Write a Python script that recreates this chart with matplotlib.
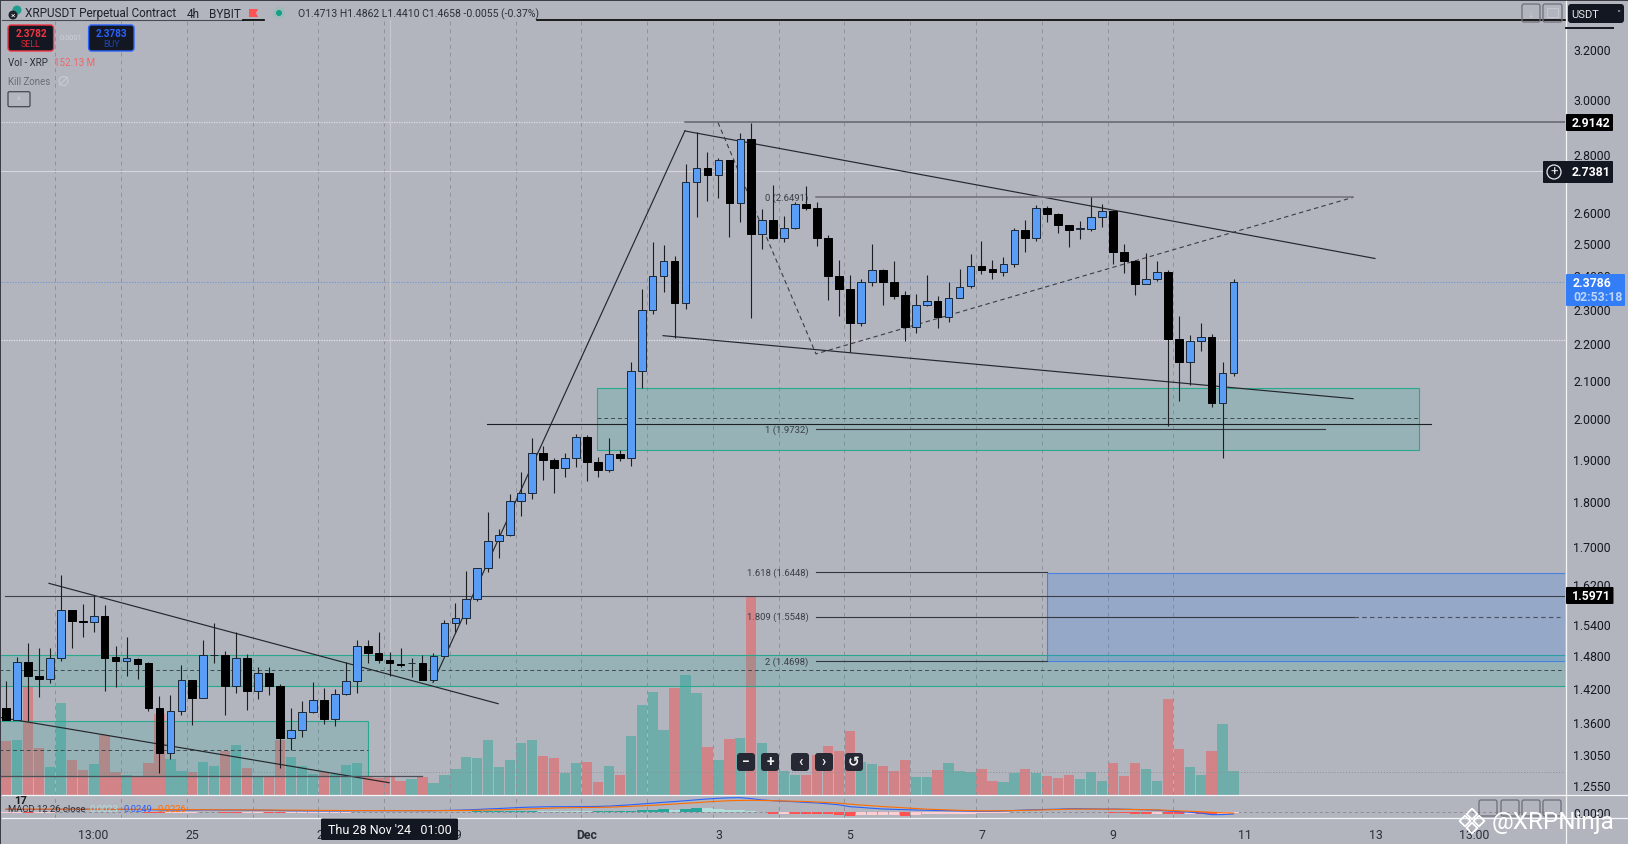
import matplotlib
matplotlib.use("Agg")
import matplotlib.pyplot as plt
from matplotlib.patches import Rectangle, FancyBboxPatch, Circle, Polygon
from matplotlib.colors import to_rgba
import numpy as np

plt.rcParams['font.family'] = ['Roboto', 'DejaVu Sans']

# candles, 4h, one value per bar
opens = [1.384, 1.364, 1.467, 1.442, 1.436, 1.475, 1.567, 1.546, 1.545, 1.557,
         1.477, 1.469, 1.473, 1.465, 1.385, 1.307, 1.379, 1.434, 1.402, 1.480,
         1.480, 1.423, 1.476, 1.414, 1.447, 1.424, 1.332, 1.346, 1.378, 1.398,
         1.365, 1.410, 1.433, 1.498, 1.484, 1.471, 1.464, 1.465, 1.465, 1.435,
         1.479, 1.543, 1.553, 1.591, 1.654, 1.711, 1.725, 1.800, 1.819, 1.913,
         1.898, 1.878, 1.902, 1.954, 1.892, 1.873, 1.912, 1.902, 2.125, 2.297,
         2.398, 2.442, 2.316, 2.702, 2.751, 2.724, 2.779, 2.631, 2.854, 2.527,
         2.574, 2.515, 2.548, 2.625, 2.614, 2.515, 2.398, 2.359, 2.258, 2.378,
         2.414, 2.378, 2.339, 2.247, 2.311, 2.323, 2.275, 2.332, 2.367, 2.428,
         2.417, 2.409, 2.433, 2.541, 2.517, 2.613, 2.595, 2.556, 2.544, 2.543,
         2.582, 2.605, 2.472, 2.444, 2.372, 2.389, 2.409, 2.213, 2.150, 2.207,
         2.219, 2.040, 2.120]
highs = [1.433, 1.478, 1.504, 1.494, 1.494, 1.639, 1.567, 1.580, 1.597, 1.578,
         1.498, 1.516, 1.476, 1.468, 1.406, 1.407, 1.462, 1.434, 1.509, 1.542,
         1.488, 1.524, 1.483, 1.458, 1.459, 1.427, 1.385, 1.396, 1.431, 1.420,
         1.419, 1.467, 1.510, 1.510, 1.525, 1.486, 1.494, 1.476, 1.481, 1.484,
         1.549, 1.582, 1.648, 1.654, 1.777, 1.738, 1.817, 1.869, 1.951, 1.932,
         1.901, 1.914, 1.961, 1.959, 1.904, 1.951, 1.922, 2.149, 2.358, 2.503,
         2.492, 2.459, 2.763, 2.880, 2.807, 2.783, 2.779, 2.876, 2.913, 2.611,
         2.692, 2.588, 2.634, 2.689, 2.634, 2.526, 2.447, 2.399, 2.389, 2.497,
         2.419, 2.444, 2.352, 2.343, 2.399, 2.338, 2.380, 2.419, 2.466, 2.506,
         2.447, 2.455, 2.549, 2.574, 2.622, 2.620, 2.598, 2.558, 2.571, 2.650,
         2.627, 2.608, 2.497, 2.445, 2.469, 2.443, 2.415, 2.278, 2.224, 2.258,
         2.227, 2.150, 2.389]
lows = [1.364, 1.364, 1.362, 1.403, 1.429, 1.470, 1.494, 1.516, 1.524, 1.415,
        1.422, 1.442, 1.436, 1.379, 1.275, 1.297, 1.372, 1.354, 1.402, 1.466,
        1.372, 1.411, 1.381, 1.401, 1.408, 1.283, 1.313, 1.335, 1.375, 1.357,
        1.353, 1.407, 1.411, 1.466, 1.466, 1.442, 1.458, 1.440, 1.435, 1.433,
        1.479, 1.524, 1.541, 1.587, 1.646, 1.676, 1.722, 1.766, 1.805, 1.850,
        1.819, 1.856, 1.880, 1.847, 1.856, 1.869, 1.894, 1.883, 2.080, 2.284,
        2.350, 2.216, 2.299, 2.585, 2.638, 2.648, 2.520, 2.568, 2.272, 2.481,
        2.513, 2.503, 2.543, 2.608, 2.491, 2.326, 2.279, 2.177, 2.250, 2.366,
        2.311, 2.328, 2.208, 2.229, 2.308, 2.245, 2.261, 2.332, 2.361, 2.402,
        2.389, 2.397, 2.426, 2.470, 2.505, 2.567, 2.530, 2.488, 2.513, 2.539,
        2.552, 2.435, 2.407, 2.340, 2.372, 2.383, 1.980, 2.044, 2.087, 2.178,
        2.030, 1.901, 2.112]
closes = [1.364, 1.467, 1.441, 1.436, 1.475, 1.567, 1.546, 1.545, 1.557, 1.476,
          1.469, 1.475, 1.464, 1.385, 1.307, 1.379, 1.434, 1.402, 1.480, 1.480,
          1.423, 1.476, 1.414, 1.447, 1.424, 1.332, 1.346, 1.378, 1.398, 1.365,
          1.410, 1.433, 1.498, 1.484, 1.471, 1.465, 1.463, 1.465, 1.435, 1.479,
          1.543, 1.553, 1.590, 1.654, 1.711, 1.725, 1.800, 1.819, 1.913, 1.898,
          1.878, 1.902, 1.954, 1.892, 1.873, 1.912, 1.902, 2.125, 2.297, 2.398,
          2.442, 2.316, 2.702, 2.751, 2.724, 2.777, 2.631, 2.852, 2.527, 2.574,
          2.514, 2.548, 2.625, 2.612, 2.514, 2.398, 2.359, 2.258, 2.378, 2.414,
          2.379, 2.338, 2.247, 2.311, 2.323, 2.275, 2.332, 2.365, 2.428, 2.416,
          2.409, 2.433, 2.541, 2.517, 2.613, 2.595, 2.556, 2.541, 2.544, 2.582,
          2.603, 2.472, 2.444, 2.372, 2.389, 2.409, 2.213, 2.150, 2.207, 2.219,
          2.040, 2.120, 2.379]

# volume in millions
volumes = [467, 473, 940, 404, 244, 788, 304, 215, 267, 519,
           195, 175, 166, 275, 697, 310, 206, 195, 281, 252,
           381, 430, 232, 166, 166, 473, 330, 252, 181, 195,
           181, 258, 275, 166, 146, 152, 120, 138, 152, 103,
           172, 224, 327, 321, 476, 244, 301, 447, 476, 333,
           318, 189, 275, 284, 109, 249, 169, 505, 774, 883,
           556, 917, 1032, 877, 413, 301, 482, 490, 1710, 447,
           209, 206, 172, 175, 347, 421, 376, 550, 281, 267,
           247, 206, 298, 155, 155, 215, 275, 206, 195, 221,
           120, 112, 189, 224, 189, 163, 143, 175, 138, 198,
           118, 275, 161, 275, 221, 118, 826, 396, 241, 172,
           378, 611, 206]

# MACD pane
macd_line = [.045, .045, .044, .044, .044, .046, .047, .047, .047, .046,
             .045, .044, .043, .040, .036, .034, .034, .034, .036, .036,
             .035, .035, .033, .032, .031, .027, .024, .023, .022, .021,
             .021, .022, .024, .025, .025, .025, .025, .025, .024, .025,
             .028, .032, .037, .043, .052, .058, .067, .074, .080, .084,
             .086, .086, .087, .088, .090, .095, .105, .115, .128, .140,
             .154, .165, .178, .192, .205, .216, .222, .225, .210, .190,
             .178, .170, .162, .152, .143, .130, .115, .086, .075, .062,
             .051, .045, .040, .035, .031, .027, .024, .021, .018, .015,
             .016, .020, .028, .035, .040, .044, .048, .055, .055, .053,
             .050, .050, .047, .043, .038, .033, .020, .010, .000, -.012,
             -.037, -.035, -.026]
signal_line = [.050, .049, .049, .048, .048, .047, .047, .047, .047, .047,
               .047, .046, .046, .045, .044, .042, .041, .040, .039, .039,
               .038, .038, .037, .036, .035, .034, .033, .032, .030, .029,
               .028, .027, .026, .026, .026, .026, .025, .025, .025, .025,
               .026, .027, .028, .030, .034, .038, .043, .048, .054, .060,
               .066, .070, .072, .074, .076, .079, .085, .092, .100, .108,
               .118, .128, .138, .148, .160, .170, .178, .182, .184, .182,
               .178, .174, .170, .165, .158, .150, .140, .125, .112, .100,
               .088, .078, .068, .058, .048, .042, .036, .030, .026, .022,
               .022, .024, .026, .030, .034, .038, .042, .048, .048, .049,
               .048, .047, .045, .042, .040, .037, .030, .022, .016, .008,
               .000, -.008, -.012]
macd_hist = [-.005, -.004, -.005, -.004, -.004, -.001, .000, .000, .000, -.001,
             -.002, -.002, -.003, -.005, -.008, -.008, -.007, -.006, -.003, -.003,
             -.004, -.015, -.014, -.014, -.016, -.017, -.009, -.009, -.008, -.008,
             -.007, -.005, -.002, -.001, -.001, -.001, .000, .000, -.001, .000,
             .002, .005, .009, .013, .018, .020, .024, .026, .026, .024,
             .020, .016, .015, .014, .014, .016, .020, .023, .028, .036,
             .051, .030, .051, .062, .060, .051, .036, .030, .020, .010,
             -.020, -.020, -.021, -.025, -.026, -.030, -.045, -.050, -.048, -.046,
             -.045, -.044, -.050, -.035, -.030, -.028, -.025, -.022, -.019, -.015,
             -.010, -.005, -.003, .005, .010, .011, .008, .005, .006, .004,
             .010, -.005, -.015, -.020, -.021, -.020, -.025, -.026, -.020, -.030,
             -.031, -.020, -.015]

price_ticks = [3.2, 3.0, 2.8, 2.6, 2.5, 2.4, 2.3, 2.2, 2.1, 2.0, 1.9, 1.8, 1.7,
               1.62, 1.54, 1.48, 1.42, 1.36, 1.305, 1.255]
time_tick_bars = [8, 17, 29, 41, 53, 65, 77, 89, 101, 113, 125, 134]
time_tick_labels = ['13:00', '25', '27', '29', 'Dec', '3', '5', '7', '9', '11', '13', '13:00']
grid_bars = [4.5 + 6 * k for k in range(18)]

# drawings: (bar, price) end points
rise_line = ([38.96, 61.95], [1.430, 2.883])
upper_channel = ([61.95, 124.9], [2.882, 2.451])
lower_channel = ([59.95, 122.9], [2.222, 2.051])
fib_path = ([64.96, 73.9, 122.9], [2.913, 2.171, 2.649])
old_upper = ([3.92, 44.9], [1.622, 1.392])
old_lower = ([-0.55, 34.95], [1.368, 1.259])

fib_labels = ['0 (2.6491)', '1 (1.9732)', '1.618 (1.6448)', '1.809 (1.5548)', '2 (1.4698)']
fib_prices = [2.6491, 1.9732, 1.6448, 1.5548, 1.4698]
fib_ends = [122.9, 120.3, 95, 123, 95]

BG = '#b2b5be'
INK = '#131722'
TEAL = '#2aa88f'
W, H = 1628, 845

fig = plt.figure(figsize=(W / 100, H / 100), dpi=100, facecolor=BG)


def pane(left, top, right, bottom, z):
    a = fig.add_axes([left / W, (H - bottom) / H, (right - left) / W, (bottom - top) / H], zorder=z)
    a.patch.set_alpha(0)
    for s in a.spines.values():
        s.set_visible(False)
    a.set_xlim(-0.456, 142.24)
    return a


x = np.arange(len(opens))
o = np.array(opens)
c = np.array(closes)
up = c >= o

# volume sits behind everything
ax_vol = pane(1, 21, 1565, 796, 1)
ax_vol.bar(x, volumes, width=0.94, color=['#6fadab' if u else '#d28387' for u in up])
ax_vol.axhline(198, color='#8d9098', lw=0.7, ls=(0, (1, 2)))
ax_vol.set_ylim(0, 6665)
ax_vol.axis('off')

# price pane
ax = pane(1, 21, 1565, 796, 2)
ax.set_yscale('log')
ax.set_ylim(1.2395, 3.3185)
ax.yaxis.tick_right()
ax.set_yticks(price_ticks)
ax.set_yticklabels(['%.4f' % p for p in price_ticks], fontsize=8.8, color=INK)
ax.minorticks_off()
ax.tick_params(axis='y', length=0, pad=6)
ax.set_xticks([])
for g in grid_bars:
    ax.axvline(g, color='#8e9199', lw=0.7, ls=(0, (4, 4)), zorder=0)

ax.axhline(2.7381, color='#d5d7dc', lw=0.8, zorder=1)
ax.axhline(2.3786, color='#6f93d8', lw=0.8, ls=(0, (1, 1.5)), zorder=1)
ax.axhline(2.21, color='#e4e5e9', lw=0.9, ls=(0, (1, 1)), zorder=1)
ax.plot([-0.456, 61.95], [2.9142, 2.9142], color='#dcdde2', lw=0.9, ls=(0, (1, 1)), zorder=1)
ax.axvline(35, color='#c6c8ce', lw=0.8, zorder=1)

# zones
for left, right, bottom, top, mid in [(53.9, 128.9, 1.922, 2.080, 2.000),
                                       (-0.6, 143, 1.424, 1.481, 1.453),
                                       (-0.6, 33, 1.270, 1.362, 1.313)]:
    ax.add_patch(Rectangle((left, bottom), right - left, top - bottom,
                           facecolor=to_rgba('#26a69a', 0.2), edgecolor=TEAL, lw=0.8, zorder=2))
    ax.plot([left, right], [mid, mid], color='#3f4a4e', lw=0.7, ls=(0, (4, 3)), zorder=2)
ax.add_patch(Rectangle((95, 1.470), 48, 1.644 - 1.470,
                       facecolor=to_rgba('#3f80ea', 0.24), edgecolor='#4a82e2', lw=0.8, zorder=2))

# trend lines
for xs, ys in [rise_line, upper_channel, lower_channel, old_upper, old_lower]:
    ax.plot(xs, ys, color='#24272c', lw=0.85, zorder=5)
ax.plot(fib_path[0], fib_path[1], color='#3a3d43', lw=0.8, ls=(0, (4, 3)), zorder=5)
ax.plot([61.95, 143], [2.9142, 2.9142], color='#63656c', lw=1.1, zorder=5)
ax.plot([-0.1, 143], [1.5971, 1.5971], color='#3d414a', lw=0.8, zorder=5)
ax.plot([43.9, 130], [1.985, 1.985], color='#1c1f24', lw=0.8, zorder=5)
ax.plot([-0.6, 38], [1.269, 1.269], color='#4c4f55', lw=0.9, zorder=5)

# fib levels
for lab, p, end in zip(fib_labels, fib_prices, fib_ends):
    col = '#6d6e74' if p == 2.6491 else '#34373d'
    ax.plot([73.9, end], [p, p], color=col, lw=1.1 if p == 2.6491 else 0.8, zorder=5)
    ax.text(73.2, p, lab, ha='right', va='center', fontsize=6.8, color='#3b3e46', zorder=5)
ax.plot([123, 141.8], [1.5548, 1.5548], color='#4a4f5c', lw=0.8, ls=(0, (4, 3)), zorder=5)

# candles
ax.vlines(x, lows, highs, color='#1c1e22', lw=0.8, zorder=6)
body_low = np.minimum(o, c)
body_high = np.maximum(o, c)
body_high = np.maximum(body_high, body_low * 1.0012)
ax.bar(x, body_high - body_low, bottom=body_low, width=0.7,
       color=['#5a9df6' if u else '#000000' for u in up],
       edgecolor=['#1c2836' if u else '#000000' for u in up], linewidth=0.7, zorder=7)

# MACD pane, zero at 813.3 px
ax_m = pane(1, 796, 1565, 819, 3)
ax_m.set_ylim(-.088, .266)
for g in grid_bars:
    ax_m.axvline(g, color='#8e9199', lw=0.7, ls=(0, (4, 4)), zorder=0)
ax_m.axhline(0, color='#8a8d95', lw=0.7, ls=(0, (3, 3)), zorder=0)
hist_colors = []
for i, h in enumerate(macd_hist):
    prev = macd_hist[i - 1] if i else h
    if h >= 0:
        hist_colors.append('#26a69a' if h >= prev else '#b2dfdb')
    else:
        hist_colors.append('#ff5252' if h < prev else '#ffcdd2')
ax_m.bar(x, macd_hist, width=0.94, color=hist_colors, zorder=1)
ax_m.plot(x, macd_line, color='#2962ff', lw=0.8, zorder=2)
ax_m.plot(x, signal_line, color='#ff6d00', lw=0.8, zorder=3)
ax_m.yaxis.tick_right()
ax_m.set_yticks([0])
ax_m.set_yticklabels(['0.0000'], fontsize=8.8, color=INK)
ax_m.tick_params(axis='y', length=0, pad=6)
ax_m.set_xticks(time_tick_bars)
ax_m.set_xticklabels(time_tick_labels, fontsize=8.8, color='#2a2e39')
ax_m.tick_params(axis='x', length=0, pad=7)
ax_m.get_xticklabels()[4].set_fontweight('bold')

# everything around the panes, in pixels
ui = fig.add_axes([0, 0, 1, 1], zorder=10)
ui.set_xlim(0, W)
ui.set_ylim(H, 0)
ui.axis('off')


def box(x0, y0, x1, y1, fc, ec='none', r=2, lw=1, alpha=None, z=3):
    ui.add_patch(FancyBboxPatch((x0, y0), x1 - x0, y1 - y0, boxstyle='round,pad=0,rounding_size=%s' % r,
                                fc=fc, ec=ec, lw=lw, alpha=alpha, zorder=z))


def label(px, py, s, size=8.4, color=INK, ha='left', weight='normal'):
    ui.text(px, py, s, fontsize=size, color=color, ha=ha, va='center', fontweight=weight, zorder=6)


# frame lines
ui.add_patch(Rectangle((0, 0), W, 2, fc='#3a3c46', ec='none'))
ui.add_patch(Rectangle((0, 0), 1.2, H, fc='#3a3c46', ec='none'))
ui.plot([1565.5, 1565.5], [2, H], color='#f4f5f7', lw=0.9)
ui.plot([2, W], [796, 796], color='#f4f5f7', lw=0.9)
ui.plot([2, W], [819.3, 819.3], color='#f4f5f7', lw=0.9)
ui.plot([2, 243], [20.7, 20.7], color='#4a4c55', lw=0.8)
ui.plot([243, 264], [20.7, 20.7], color='#000000', lw=1.2)
ui.plot([537, 1565], [20.7, 20.7], color='#000000', lw=1.2)
ui.plot([1566, 1613], [28.5, 28.5], color='#131722', lw=1.4)

# header
ui.add_patch(Circle((17, 11), 4.5, fc='#1f9e8f', ec='none', zorder=3))
ui.add_patch(Circle((13, 16), 4.5, fc='#20232b', ec='none', zorder=4))
label(13, 16, '×', size=6, color='white', ha='center')
label(25, 14, 'XRPUSDT Perpetual Contract', size=8.5, color='#1e222d')
label(187, 14, '4h', size=8.5, color='#1e222d')
label(209, 14, 'BYBIT', size=8.5, color='#1e222d')
ui.add_patch(Polygon([(249, 10), (258, 10), (256, 14), (258, 18), (249, 18)], fc='#ff5252', ec='none'))
ui.add_patch(Circle((279, 14), 6, fc='#9fb8b8', ec='none'))
ui.add_patch(Circle((279, 14), 3, fc='#12a089', ec='none'))
label(297.5, 14.5, 'O1.4713 H1.4862 L1.4410 C1.4658 -0.0055 (-0.37%)', size=7.5, color='#2a2e39')

# order buttons
box(8, 26, 53.6, 52, '#131722', '#f23645', r=3, lw=1)
label(31, 34, '2.3782', size=7.2, color='#f23645', ha='center', weight='bold')
label(31, 44.5, 'SELL', size=6.4, color='#d9273a', ha='center')
label(71, 38, '0.0001', size=5.4, color='#ced1d8', ha='center')
box(88.6, 26, 134, 52, '#131722', '#2962ff', r=3, lw=1)
label(111, 34, '2.3783', size=7.2, color='#2962ff', ha='center', weight='bold')
label(111, 44.5, 'BUY', size=6.4, color='#1e46b4', ha='center')

label(8, 63.5, 'Vol - XRP', size=7, color='#2a2e39')
label(54, 63.5, '152.13 M', size=7, color='#f0656a')
label(8, 82, 'Kill Zones', size=7, color='#6a6d78')
ui.add_patch(Circle((63.6, 82), 4.5, fc='none', ec='#c8cad0', lw=0.8, zorder=4))
ui.plot([59.5, 67.7], [86, 78], color='#c8cad0', lw=0.8, zorder=4)
box(8, 92.7, 30, 107.7, 'none', '#44474f', r=1.5, lw=0.9)
label(19, 100, '^', size=6.5, color='#d0d2d8', ha='center')

# price labels on the axis
box(1566, 115, 1613, 132, '#000000', r=1)
label(1591, 123.8, '2.9142', size=8.8, color='white', ha='center', weight='bold')
box(1543, 162, 1613, 184, '#131722', r=1)
label(1591, 173, '2.7381', size=8.8, color='white', ha='center', weight='bold')
ui.add_patch(Circle((1554, 173), 7, fc='none', ec='#e8e9ec', lw=0.9, zorder=5))
label(1554, 172.6, '+', size=9.5, color='#e8e9ec', ha='center')
box(1566, 275, 1625, 307, '#337df6', r=1)
label(1573, 284, '2.3786', size=8.8, color='white', weight='bold')
label(1573, 298, '02:53:18', size=8.8, color='#bcd5fb', weight='bold')
box(1566, 588, 1613.5, 605, '#000000', r=1)
label(1591, 596.5, '1.5971', size=8.8, color='white', ha='center', weight='bold')

# currency selector and top buttons
box(1568, 5, 1624, 24, '#131722', r=3)
label(1571, 15, 'USDT', size=8, color='#e6e7ea')
label(1618, 15, '˅', size=6, color='#e6e7ea', ha='center')
box(1522, 5, 1540, 23, 'none', '#6b6e77', r=2, lw=0.9)
label(1531, 15, '↓', size=7, color='#c5c7ce', ha='center')
box(1543, 5, 1562, 23, 'none', '#6b6e77', r=2, lw=0.9)
ui.add_patch(Rectangle((1547, 9), 11, 9, fc='none', ec='#c5c7ce', lw=0.8, zorder=5))

# chart buttons
for px, s in zip([746, 770, 800, 824, 854], ['−', '+', '‹', '›', '↺']):
    box(px - 9, 754, px + 9, 772, '#262933', r=3)
    label(px, 762.5, s, size=10, color='#f0f1f3', ha='center', weight='bold')

# lower right buttons
for px in [1479, 1501, 1522, 1543]:
    box(px, 801, px + 18, 817, 'none', '#6b6e77', r=2, lw=0.9)

# MACD legend
label(8, 809.5, 'MACD 12 26 close', size=6.8, color='#2a2e39')
label(90, 809.5, '0.0023', size=6.8, color='#b2dfdb')
label(124, 809.5, '0.0249', size=6.8, color='#2962ff')
label(157, 809.5, '0.0226', size=6.8, color='#ff6d00')
label(21, 801.5, '17', size=8, color='#1a1c20', ha='center', weight='bold')

# crosshair time label
box(321, 819.5, 458, 841, '#131722', r=1.5)
label(389.5, 830.5, "Thu 28 Nov '24   01:00", size=9, color='white', ha='center')

# watermark
ui.scatter([1472, 1465, 1479, 1472], [815, 822, 822, 829], marker='D', s=30, fc='none', ec='white', lw=1.3, zorder=6)
label(1492, 823, '@XRPNinja', size=17.5, color='white')

fig.savefig('out.png', dpi=100, facecolor=BG)
